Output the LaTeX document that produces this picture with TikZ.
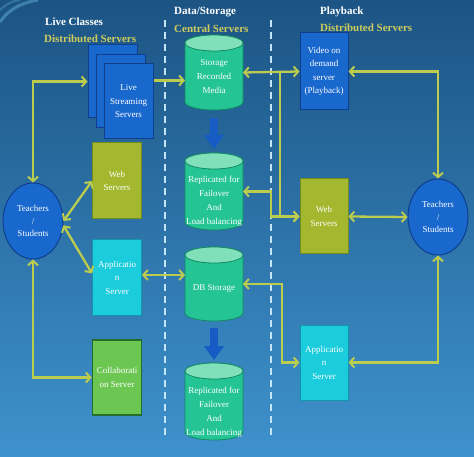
\documentclass[tikz,border=0pt]{standalone}
\usepackage{fontspec}
\setmainfont{Liberation Serif}
\usetikzlibrary{arrows.meta,calc,shapes.geometric}
\definecolor{bgtop}{RGB}{28,84,132}
\definecolor{bgbot}{RGB}{62,146,205}
\definecolor{arrc}{RGB}{188,204,78}
\definecolor{subc}{RGB}{206,204,92}
\definecolor{bluef}{RGB}{24,104,206}
\definecolor{blued}{RGB}{16,62,140}
\definecolor{olivef}{RGB}{163,184,46}
\definecolor{olived}{RGB}{118,138,30}
\definecolor{cyanf}{RGB}{26,204,220}
\definecolor{cyand}{RGB}{18,150,170}
\definecolor{greenf}{RGB}{108,198,82}
\definecolor{greend}{RGB}{38,108,42}
\definecolor{cylf}{RGB}{36,196,148}
\definecolor{cylt}{RGB}{128,224,186}
\definecolor{cyld}{RGB}{18,138,98}
\definecolor{dashc}{RGB}{196,228,248}
\definecolor{bigb}{RGB}{22,92,196}
\definecolor{bigbd}{RGB}{14,62,150}
\newcommand\drawcyl[1]{%
  \filldraw[fill=cylf,draw=cyld,line width=0.8pt]
    ($(#1.north west)+(0,8)$) -- ($(#1.south west)+(0,-8)$)
    arc[start angle=180,end angle=360,x radius=29pt,y radius=8pt]
    -- ($(#1.north east)+(0,8)$)
    arc[start angle=0,end angle=180,x radius=29pt,y radius=8pt] -- cycle;
  \filldraw[fill=cylt,draw=cyld,line width=0.8pt]
    ($(#1.north)+(0,8)$) ellipse[x radius=29pt,y radius=8pt];
}
\begin{document}
\begin{tikzpicture}[x=1pt,y=-1pt,
  box/.style={draw, line width=1pt, minimum width=49, minimum height=75,
    inner sep=1pt, align=center, text=white, font=\fontsize{9}{13.5}\selectfont},
  bluebox/.style={box, fill=bluef, draw=blued},
  olivebox/.style={box, fill=olivef, draw=olived},
  cyanbox/.style={box, fill=cyanf, draw=cyand},
  greenbox/.style={box, fill=greenf, draw=greend, line width=1.5pt},
  stud/.style={ellipse, draw=blued, fill=bluef, line width=1pt, minimum width=60,
    minimum height=76, inner sep=0pt, align=center, text=white,
    font=\fontsize{9}{12.5}\selectfont},
  cylslot/.style={draw=none, minimum width=58, inner sep=0pt, outer sep=0pt},
  cyltext/.style={align=center, text=white, font=\fontsize{9}{14}\selectfont, inner sep=0pt},
  title/.style={anchor=west, text=white, font=\bfseries\fontsize{11}{12}\selectfont, inner sep=0pt},
  subtitle/.style={anchor=west, text=subc, font=\bfseries\fontsize{11}{12}\selectfont, inner sep=0pt},
  conn/.style={draw=arrc, line width=2.3pt},
  tip/.tip={Straight Barb[length=4.5pt,width=10pt,line width=2pt]},
  bigarrow/.style={draw=bigb, line width=8pt, -{Triangle[length=14pt,width=19pt,fill=bigb,color=bigb]}},
  dashline/.style={draw=dashc, line width=1.6pt, dash pattern=on 7pt off 5pt}
]
\fill[top color=bgtop, bottom color=bgbot] (0,0) rectangle (474,457);
\useasboundingbox (0,0) rectangle (474,457);
\draw[cyan!50!white, opacity=0.35, line width=3pt] (0,22) .. controls (8,10) and (20,3) .. (38,0);
\draw[cyan!50!white, opacity=0.25, line width=2pt] (0,10) .. controls (5,5) and (12,1) .. (20,0);

% dashed separators
\draw[dashline] (165,20) -- (165,436);
\draw[dashline] (271,20) -- (271,436);

% titles
\node[title] (t1) at (45,22) {Live Classes};
\node[subtitle] (t2) at (44,39) {Distributed Servers};
\node[title] (t3) at (174,12) {Data/Storage};
\node[subtitle] (t4) at (174,29) {Central Servers};
\node[title] (t5) at (320,12) {Playback};
\node[subtitle] (t6) at (320,28) {Distributed Servers};

% left column
\node[bluebox, minimum height=73] (stackA) at (112.5,81.5) {};
\node[bluebox, minimum height=73] (stackB) at (121,91.5) {};
\node[bluebox] (stackC) at (128.5,101.5) {Live\\Streaming\\Servers};
\node[olivebox, minimum height=76] (lweb) at (117,181) {Web\\Servers};
\node[cyanbox] (lapp) at (117,277.5) {Applicatio\\n\\Server};
\node[greenbox] (lcol) at (117,377.5) {Collaborati\\on Server};
\node[stud] (lstud) at (33,221) {Teachers\\/\\Students};

% central cylinders
\node[cylslot, minimum height=75] (sto) at (214,72.5) {};
\node[cylslot, minimum height=77] (rep1) at (214,191.5) {};
\node[cylslot, minimum height=74] (db) at (214,284) {};
\node[cylslot, minimum height=77] (rep2) at (214,401.5) {};
\drawcyl{sto}
\drawcyl{rep1}
\drawcyl{db}
\drawcyl{rep2}
\node[cyltext] (stot) at (214,77) {Storage\\Recorded\\Media};
\node[cyltext] (rep1t) at (214,201) {Replicated for\\Failover\\And\\Load balancing};
\node[cyltext] (dbt) at (214,288) {DB Storage};
\node[cyltext] (rep2t) at (214,412) {Replicated for\\Failover\\And\\Load balancing};

% right column
\node[bluebox, minimum width=48, minimum height=77] (vod) at (324,71.5) {Video on\\demand\\server\\(Playback)};
\node[olivebox, minimum width=48] (rweb) at (324,216.5) {Web\\Servers};
\node[cyanbox, minimum width=48] (rapp) at (324,362.5) {Applicatio\\n\\Server};
\node[stud] (rstud) at (438,217) {Teachers\\/\\Students};

% big blue arrows
\draw[bigarrow] ($(sto.south)+(0,8)$) -- ($(rep1.north)+(0,-4)$);
\draw[bigarrow] ($(db.south)+(0,7)$) -- ($(rep2.north)+(0,-3)$);

% connectors left
\draw[conn, tip-tip] (lstud.north) |- (stackA.west);
\draw[conn, tip-tip] (lstud.east) -- (lweb.west);
\draw[conn, tip-tip] (lstud.-8) -- ($(lapp.west)+(0,-4)$);
\draw[conn, tip-tip] (lstud.south) |- (lcol.west);
\draw[conn, -tip] ($(sto.west -| stackC.east)+(0,8)$) -- ($(sto.west)+(0,8)$);
\draw[conn, tip-tip] ($(lapp.east)+(0,-2.5)$) -- ($(lapp.east -| db.west)+(0,-2.5)$);

% connectors right
\draw[conn, tip-tip] (sto.east) -- (vod.west);
\draw[conn, -tip] ($(sto.east)+(37,0)$) |- (rweb.west);
\draw[conn, tip-tip] (rep1.east) -- ++(28,0) |- (rweb.west);
\draw[conn, tip-tip] (db.east) -- ++(39,0) |- (rapp.west);
\draw[conn, tip-tip] (rweb.east) -- (rstud.west);
\draw[conn, tip-tip] (vod.east) -| (rstud.north);
\draw[conn, tip-tip] (rstud.south) |- (rapp.east);
\end{tikzpicture}
\end{document}
